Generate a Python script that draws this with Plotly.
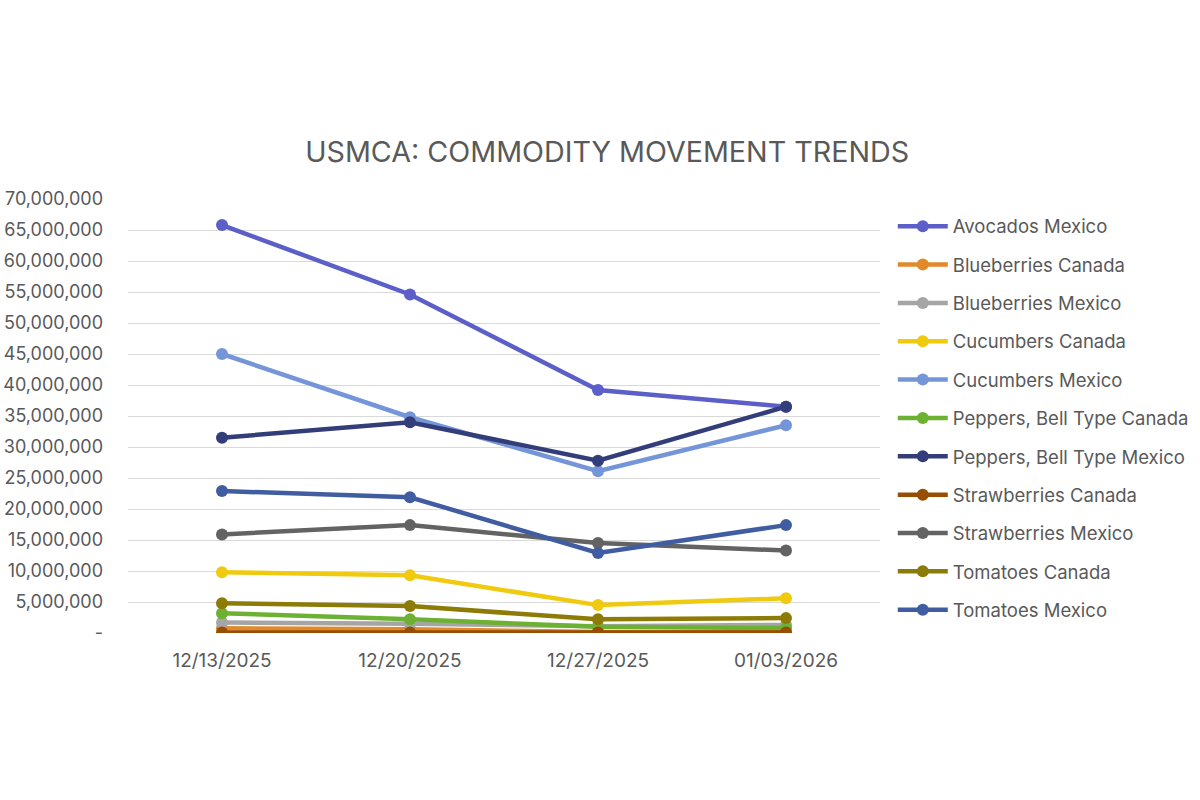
import plotly.graph_objects as go

dates = ["12/13/2025", "12/20/2025", "12/27/2025", "01/03/2026"]

avocados_mexico = [65800000, 54600000, 39200000, 36500000]
blueberries_canada = [750000, 600000, 150000, 120000]
blueberries_mexico = [1700000, 1500000, 1100000, 1300000]
cucumbers_canada = [9800000, 9300000, 4500000, 5600000]
cucumbers_mexico = [45000000, 34800000, 26100000, 33500000]
peppers_canada = [3200000, 2200000, 1000000, 800000]
peppers_mexico = [31500000, 34000000, 27800000, 36500000]
strawberries_canada = [100000, 90000, 80000, 80000]
strawberries_mexico = [15900000, 17400000, 14500000, 13300000]
tomatoes_canada = [4800000, 4350000, 2200000, 2400000]
tomatoes_mexico = [22900000, 21900000, 12900000, 17400000]

series = [
    ("Avocados Mexico", avocados_mexico, "#5B5FC7"),
    ("Blueberries Canada", blueberries_canada, "#E08A2B"),
    ("Blueberries Mexico", blueberries_mexico, "#A5A5A5"),
    ("Cucumbers Canada", cucumbers_canada, "#F0CA0F"),
    ("Cucumbers Mexico", cucumbers_mexico, "#7496D8"),
    ("Peppers, Bell Type Canada", peppers_canada, "#6DB132"),
    ("Peppers, Bell Type Mexico", peppers_mexico, "#333D7A"),
    ("Strawberries Canada", strawberries_canada, "#974D02"),
    ("Strawberries Mexico", strawberries_mexico, "#636363"),
    ("Tomatoes Canada", tomatoes_canada, "#8C7B06"),
    ("Tomatoes Mexico", tomatoes_mexico, "#3F5DA0"),
]

tick_vals = list(range(0, 70000001, 5000000))
tick_text = ["-"] + [f"{v:,}" for v in tick_vals[1:]]

fig = go.Figure()
for i, (name, vals, color) in enumerate(series):
    fig.add_trace(go.Scatter(
        x=dates, y=vals, name=name, mode="lines+markers",
        line=dict(color=color, width=4.5),
        marker=dict(color=color, size=12),
        legendgroup=f"g{i}",
    ))

font_fam = "Inter, Open Sans, sans-serif"
fig.update_layout(
    width=1200, height=800,
    margin=dict(l=128, r=320, t=199, b=167, autoexpand=False),
    paper_bgcolor="white", plot_bgcolor="white",
    title=dict(text="USMCA: COMMODITY MOVEMENT TRENDS", x=0.506, xanchor="center",
               y=1 - 152 / 800, yanchor="middle", yref="container",
               font=dict(family=font_fam, size=28.7, color="#595959")),
    xaxis=dict(type="category", showgrid=False, showline=False, ticks="",
               ticklabelstandoff=14, automargin=False,
               tickfont=dict(family=font_fam, size=19, color="#595959"),
               range=[-0.5, 3.5], fixedrange=True),
    yaxis=dict(range=[0, 70000000], tickvals=tick_vals, ticktext=tick_text,
               showgrid=True, gridcolor="#D9D9D9", gridwidth=1, zeroline=False,
               showline=False, ticks="", ticklabelstandoff=24, automargin=False,
               tickfont=dict(family=font_fam, size=18, color="#595959")),
    legend=dict(x=1.017, xanchor="left", y=0.98, yanchor="top",
                traceorder="grouped", tracegroupgap=11.3, itemwidth=50,
                maxheight=700,
                font=dict(family=font_fam, size=18.5, color="#595959"),
                bgcolor="rgba(0,0,0,0)"),
    showlegend=True,
)

fig.write_html("out.html")
